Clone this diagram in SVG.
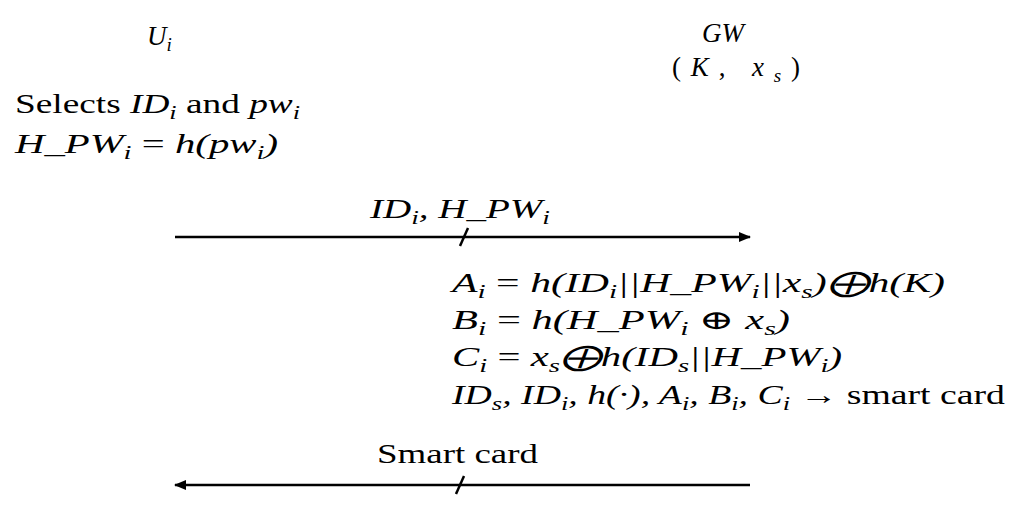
<svg xmlns="http://www.w3.org/2000/svg" width="1024" height="511" viewBox="0 0 1024 511">
<style>
text{font-family:"Liberation Serif","DejaVu Serif",serif;font-size:27px;fill:#000}
.i{font-style:italic}
.s{font-size:19px;font-style:italic}
.c{stroke:#000;stroke-width:2.5;fill:none}
</style>
<defs><marker id="ah" markerWidth="12" markerHeight="10" refX="11" refY="5" orient="auto" markerUnits="userSpaceOnUse"><path d="M0,0 L12,5 L0,10 Z" fill="#000"/></marker></defs>
<rect width="1024" height="511" fill="#fff"/>
<g id="ui"><text x="147" y="45" class="i">U<tspan class="s" dy="6">i</tspan></text></g>
<g id="gw"><text x="702" y="42" class="i">GW</text><text x="672" y="76" textLength="128" lengthAdjust="spacing">(<tspan class="i">K</tspan>, <tspan class="i">x</tspan><tspan class="s" dy="6">s</tspan><tspan dy="-6">)</tspan></text></g>
<g id="user-steps">
<text x="15" y="113" textLength="285" lengthAdjust="spacingAndGlyphs">Selects <tspan class="i">ID</tspan><tspan class="s" dy="6">i</tspan><tspan dy="-6"> and </tspan><tspan class="i">pw</tspan><tspan class="s" dy="6">i</tspan></text>
<text x="15" y="153" class="i" textLength="263" lengthAdjust="spacingAndGlyphs">H_PW<tspan class="s" dy="6">i</tspan><tspan dy="-6" font-style="normal"> = </tspan>h(pw<tspan class="s" dy="6">i</tspan><tspan dy="-6">)</tspan></text>
</g>
<g id="gw-steps">
<text x="452" y="292" class="i" textLength="493" lengthAdjust="spacingAndGlyphs">A<tspan class="s" dy="6">i</tspan><tspan dy="-6" font-style="normal"> = </tspan>h(ID<tspan class="s" dy="6">i</tspan><tspan dy="-6">||H_PW</tspan><tspan class="s" dy="6">i</tspan><tspan dy="-6">||x</tspan><tspan class="s" dy="6">s</tspan><tspan dy="-6">)⨁h(K)</tspan></text>
<text x="452" y="329" class="i" textLength="338" lengthAdjust="spacingAndGlyphs">B<tspan class="s" dy="6">i</tspan><tspan dy="-6" font-style="normal"> = </tspan>h(H_PW<tspan class="s" dy="6">i</tspan><tspan dy="-6"> ⊕ x</tspan><tspan class="s" dy="6">s</tspan><tspan dy="-6">)</tspan></text>
<text x="452" y="366" class="i" textLength="390" lengthAdjust="spacingAndGlyphs">C<tspan class="s" dy="6">i</tspan><tspan dy="-6" font-style="normal"> = </tspan>x<tspan class="s" dy="6">s</tspan><tspan dy="-6">⨁h(ID</tspan><tspan class="s" dy="6">s</tspan><tspan dy="-6">||H_PW</tspan><tspan class="s" dy="6">i</tspan><tspan dy="-6">)</tspan></text>
<text x="452" y="404" class="i" textLength="553" lengthAdjust="spacingAndGlyphs">ID<tspan class="s" dy="6">s</tspan><tspan dy="-6">, ID</tspan><tspan class="s" dy="6">i</tspan><tspan dy="-6">, h(·), A</tspan><tspan class="s" dy="6">i</tspan><tspan dy="-6">, B</tspan><tspan class="s" dy="6">i</tspan><tspan dy="-6">, C</tspan><tspan class="s" dy="6">i</tspan><tspan dy="-6" font-style="normal"> → smart card</tspan></text>
</g>
<g id="connectors">
<line class="c" x1="175" y1="237" x2="750" y2="237" marker-end="url(#ah)"/>
<line class="c" x1="460" y1="246" x2="468" y2="228"/>
<text x="370" y="218" class="i" textLength="180" lengthAdjust="spacingAndGlyphs">ID<tspan class="s" dy="6">i</tspan><tspan dy="-6">, H_PW</tspan><tspan class="s" dy="6">i</tspan></text>
<line class="c" x1="750" y1="485" x2="175" y2="485" marker-end="url(#ah)"/>
<line class="c" x1="456" y1="494" x2="464" y2="476"/>
<text x="377" y="463" textLength="161" lengthAdjust="spacingAndGlyphs">Smart card</text>
</g>
</svg>
